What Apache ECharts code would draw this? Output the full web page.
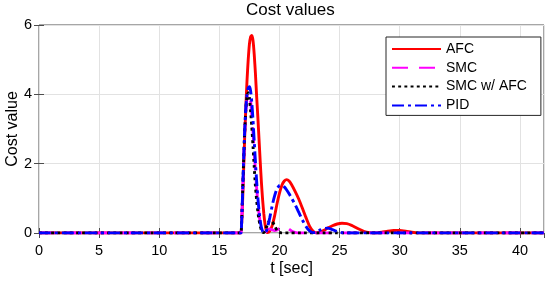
<!DOCTYPE html>
<html><head><meta charset="utf-8">
<script src="https://cdn.jsdelivr.net/npm/echarts@6/dist/echarts.min.js"></script>
<style>html,body{margin:0;padding:0;background:#fff}#c{width:550px;height:282px}</style>
</head><body><div id="c"></div>
<script>
// time samples [sec]
const time = [
  0, 16.7,
  16.8, 16.9, 17.0, 17.1, 17.2, 17.3, 17.4, 17.5, 17.6, 17.7,
  17.8, 17.9, 18.0, 18.1, 18.2, 18.3, 18.4, 18.5, 18.6, 18.7,
  18.8, 18.9, 19.0, 19.2, 19.4, 19.6, 19.8, 20.0, 20.2, 20.4,
  20.6, 20.8, 21.0, 21.3, 21.6, 21.9, 22.2, 22.5, 22.8, 23.1,
  23.4, 23.7, 24.0, 24.4, 24.8, 25.2, 25.6, 26.0, 26.5, 27.0,
  27.5, 28.0, 28.5, 29.0, 29.5, 30.0, 30.5, 31.0, 31.5, 42
];
const afc = [
  0, 0,
  0, 0.6, 1.6, 2.7, 3.6, 4.4, 5.0, 5.45, 5.66, 5.70,
  5.55, 5.15, 4.6, 3.95, 3.35, 2.7, 2.05, 1.45, 0.95, 0.55,
  0.25, 0.08, 0.01, 0.06, 0.22, 0.5, 0.85, 1.15, 1.38, 1.5,
  1.54, 1.5, 1.4, 1.2, 0.98, 0.72, 0.45, 0.2, 0.05, 0,
  0.03, 0.08, 0.14, 0.21, 0.26, 0.28, 0.27, 0.22, 0.13, 0.05,
  0.01, 0, 0.02, 0.05, 0.07, 0.07, 0.05, 0.02, 0, 0
];
const smc = [
  0, 0,
  0, 0.8, 1.9, 2.85, 3.5, 3.9, 4.05, 4.0, 3.8, 3.4,
  2.9, 2.35, 1.8, 1.3, 0.88, 0.55, 0.3, 0.14, 0.05, 0.01,
  0.02, 0.06, 0.1, 0.12, 0.09, 0.07, 0.09, 0.13, 0.17, 0.18,
  0.16, 0.11, 0.06, 0.02, 0, 0, 0, 0, 0, 0,
  0, 0, 0, 0, 0, 0, 0, 0, 0, 0,
  0, 0, 0, 0, 0, 0, 0, 0, 0, 0
];
const smcAfc = [
  0, 0,
  0, 0.8, 1.9, 2.85, 3.55, 3.95, 4.05, 3.9, 3.5, 3.05,
  2.5, 1.9, 1.35, 0.95, 0.62, 0.38, 0.2, 0.08, 0.02, 0.01,
  0.06, 0.15, 0.25, 0.37, 0.33, 0.2, 0.08, 0.02, 0, 0,
  0, 0, 0, 0, 0, 0, 0, 0, 0, 0,
  0, 0, 0, 0, 0, 0, 0, 0, 0, 0,
  0, 0, 0, 0, 0, 0, 0, 0, 0, 0
];
const pid = [
  0, 0,
  0, 0.8, 1.9, 2.9, 3.6, 4.0, 4.18, 4.22, 4.1, 3.75,
  3.25, 2.65, 2.05, 1.5, 1.02, 0.64, 0.35, 0.16, 0.05, 0.01,
  0, 0.05, 0.15, 0.45, 0.8, 1.08, 1.28, 1.37, 1.38, 1.33,
  1.24, 1.13, 1.01, 0.82, 0.6, 0.38, 0.19, 0.06, 0.01, 0.03,
  0.09, 0.13, 0.14, 0.1, 0.04, 0.01, 0, 0, 0, 0,
  0, 0, 0, 0, 0, 0, 0, 0, 0, 0
];
const seriesNames = ['AFC', 'SMC', 'SMC w/ AFC', 'PID'];
const titleText = 'Cost values';
const xName = 't [sec]';
const yName = 'Cost value';

const font = '"Liberation Sans", Arial, Helvetica, sans-serif';
const axisColor = '#4d4d4d';
const gridColor = '#e2e2e2';
function pairs(v) { return time.map((x, i) => [x, v[i]]); }
function mk(name, data, color, type, z) {
  return {
    name: name, type: 'line', data: pairs(data), symbol: 'none', showSymbol: false,
    smooth: 0.2, z: z, clip: true,
    lineStyle: { color: color, width: 2.9, type: type, cap: 'butt' },
    itemStyle: { color: color, opacity: 0 }
  };
}
const chart = echarts.init(document.getElementById('c'), null, { renderer: 'canvas' });
chart.setOption({
  animation: false,
  backgroundColor: '#fff',
  title: {
    text: titleText, left: 246, top: 2, padding: 0,
    textStyle: { fontFamily: font, fontSize: 17, fontWeight: 'normal', color: '#000' }
  },
  grid: { left: 39, right: 6, top: 25, bottom: 49, show: true, borderColor: axisColor, borderWidth: 1, backgroundColor: '#fff', outerBoundsMode: 'none', containLabel: false },
  legend: {
    orient: 'vertical', left: 386, top: 37, padding: [5, 14, 3, 5],
    itemWidth: 49, itemHeight: 14, itemGap: 4.8,
    backgroundColor: '#fff', borderColor: '#262626', borderWidth: 1,
    itemStyle: { opacity: 0 },
    textStyle: { fontFamily: font, fontSize: 14, color: '#000' },
    data: seriesNames
  },
  xAxis: [
    {
      type: 'value', min: 0, max: 42, interval: 5, position: 'bottom',
      name: xName, nameLocation: 'middle', nameGap: 28, nameMoveOverlap: false,
      nameTextStyle: { fontFamily: font, fontSize: 16, color: '#000' },
      axisLine: { show: false },
      axisTick: { show: true, inside: true, length: 5, lineStyle: { color: axisColor } },
      axisLabel: { fontFamily: font, fontSize: 14.5, color: '#000', margin: 10, showMaxLabel: false },
      splitLine: { show: true, lineStyle: { color: gridColor, width: 1 } }
    },
    {
      type: 'value', min: 0, max: 42, interval: 5, position: 'top',
      axisLine: { show: false },
      axisTick: { show: true, inside: true, length: 5, lineStyle: { color: axisColor } },
      axisLabel: { show: false }, splitLine: { show: false }
    }
  ],
  yAxis: [
    {
      type: 'value', min: 0, max: 6, interval: 2, position: 'left',
      name: yName, nameLocation: 'middle', nameGap: 18, nameMoveOverlap: false,
      nameTextStyle: { fontFamily: font, fontSize: 16, color: '#000' },
      axisLine: { show: false },
      axisTick: { show: true, inside: true, length: 5, lineStyle: { color: axisColor } },
      axisLabel: { fontFamily: font, fontSize: 14.5, color: '#000', margin: 7 },
      splitLine: { show: true, lineStyle: { color: gridColor, width: 1 } }
    },
    {
      type: 'value', min: 0, max: 6, interval: 2, position: 'right',
      axisLine: { show: false },
      axisTick: { show: true, inside: true, length: 5, lineStyle: { color: axisColor } },
      axisLabel: { show: false }, splitLine: { show: false }
    }
  ],
  series: [
    mk(seriesNames[0], afc, '#ff0000', 'solid', 2),
    mk(seriesNames[1], smc, '#ff00ff', [16, 11], 3),
    mk(seriesNames[2], smcAfc, '#000000', [2.9, 3.3], 4),
    mk(seriesNames[3], pid, '#0000ff', [12, 4, 3, 4], 5)
  ]
});
</script>
</body></html>
